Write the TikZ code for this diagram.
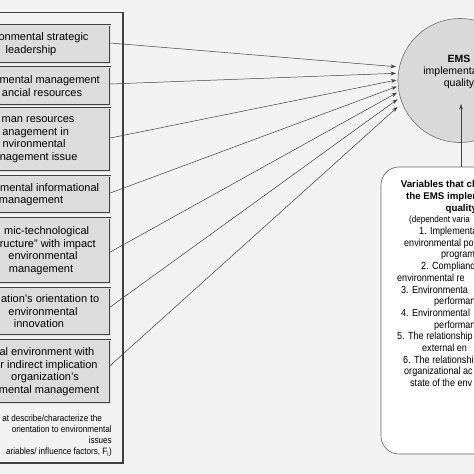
\documentclass[tikz,border=0pt]{standalone}
\usepackage{fontspec}
\setmainfont{Liberation Sans}
\newfontfamily\narrowfont[FakeStretch=0.88]{Liberation Sans}
\usetikzlibrary{arrows.meta,shadows}
\definecolor{bg}{HTML}{F2F2F2}
\definecolor{boxfill}{HTML}{DCDCDC}
\definecolor{circfill}{HTML}{D9D9D9}
\begin{document}
\begin{tikzpicture}[x=1pt,y=-1pt,
  leftbox/.style={draw=black!75, line width=0.45pt, double=gray!25, double distance=0.9pt,
    fill=boxfill, minimum width=158pt, inner sep=0pt, align=center,
    font=\fontsize{11}{12.5}\selectfont,
    drop shadow={shadow xshift=1.3pt, shadow yshift=-1.3pt, opacity=0.55, fill=black!70}},
  frame/.style={draw=black!75, line width=1.1pt},
  conn/.style={draw=black!75, line width=0.5pt, -{Stealth[length=5.5pt,width=3.8pt]}},
  emscirc/.style={circle, draw=black!55, line width=0.6pt, fill=circfill, minimum size=124pt, inner sep=0pt},
  rbox/.style={draw=black!60, line width=0.6pt, fill=white, rounded corners=18pt,
    minimum width=166pt, minimum height=287pt, inner sep=0pt},
  plain/.style={inner sep=0pt}
]
\useasboundingbox (0,0) rectangle (474,474);
\clip (0,0) rectangle (474,474);
\fill[bg] (0,0) rectangle (474,474);

% left frame
\draw[frame] (-70,12.5) rectangle (123,463);

% left boxes
\node[leftbox, minimum height=38pt] (b1) at (31,44)
  {\hphantom{Envir}onmental strategic\\leadership};
\node[leftbox, minimum height=38pt] (b2) at (31,86)
  {\hphantom{Environ}mental management\\\hphantom{\& fin}ancial resources};
\node[leftbox, minimum height=63pt] (b3) at (31,139.5)
  {\hphantom{Hu}man resources\\\hphantom{m}anagement in\\\hphantom{e}nvironmental\\\hphantom{ma}nagement issue};
\node[leftbox, minimum height=37pt] (b4) at (31,194.5)
  {\hphantom{Environ}mental informational\\management};
\node[leftbox, minimum height=65pt] (b5) at (31,250.5)
  {\hphantom{Econo}mic-technological\\\hphantom{“infrast}ructure” with impact\\\hspace*{24pt}environmental\\\hspace*{20pt}management};
\node[leftbox, minimum height=47pt] (b6) at (31,311.5)
  {\hphantom{Organiz}ation’s orientation to\\\hspace*{24pt}environmental\\\hspace*{16pt}innovation};
\node[leftbox, minimum height=63pt] (b7) at (31,371.5)
  {\hphantom{Extern}al environment with\\\hphantom{direct o}r indirect implication\\\hspace*{28pt}organization’s\\\hphantom{environ}mental management};

% caption of the left frame
\node[plain, anchor=north east, align=right, font=\narrowfont\fontsize{9.2}{11.2}\selectfont] (cap) at (112,414.5)
  {at describe/characterize the\hspace*{10pt}\\orientation to environmental\hspace*{5pt}\\issues\hspace*{54pt}\\ariables/ influence factors, F\textsubscript{i})};

% circle
\node[emscirc] (ems) at (460,80.5) {};
\node[plain, align=center, font=\fontsize{10.5}{11.8}\selectfont] (emstext) at (459,72)
  {\textbf{EMS}\\implementation\\quality};

% right box
\node[rbox] (rb) at (464,310.5) {};
\node[plain, anchor=north west, align=left, font=\narrowfont\fontsize{10.3}{11.7}\selectfont] (rtext) at (397,180.5)
  {\hspace*{3.7pt}{\fontspec{Liberation Sans}\fontsize{9.7}{11.7}\selectfont\bfseries Variables that ch}\\
   \hspace*{9pt}{\fontspec{Liberation Sans}\fontsize{9.7}{11.7}\selectfont\bfseries the EMS implem}\\
   \hspace*{48.5pt}{\fontspec{Liberation Sans}\fontsize{9.7}{11.7}\selectfont\bfseries quality}\\
   \hspace*{12pt}{\fontsize{9.2}{11.7}\selectfont(dependent varia}\\
   \hspace*{22pt}1. Implementa\\
   \hspace*{7pt}environmental po\\
   \hspace*{44pt}program\\
   \hspace*{24pt}2. Complianc\\
   \hspace*{0pt}environmental re\\
   \hspace*{4pt}3. Environmenta\\
   \hspace*{37pt}performan\\
   \hspace*{4pt}4. Environmental\\
   \hspace*{37pt}performan\\
   \hspace*{0pt}5. The relationship\\
   \hspace*{25pt}external en\\
   \hspace*{6pt}6. The relationshi\\
   \hspace*{7pt}organizational ac\\
   \hspace*{13pt}state of the env};

% arrow tips
\coordinate (t1) at (396,66.7);
\coordinate (t2) at (396,73.3);
\coordinate (t3) at (396.5,80);
\coordinate (t4) at (397,86.5);
\coordinate (t5) at (397,92.7);
\coordinate (t6) at (397.5,99.3);
\coordinate (t7) at (397.5,107);
\coordinate (vtip) at (461,104);

\draw[conn] ([yshift=1pt]b1.east) -- (t1);
\draw[conn] ([yshift=2pt]b2.east) -- (t2);
\draw[conn] ([yshift=1.5pt]b3.east) -- (t3);
\draw[conn] ([yshift=1.5pt]b4.east) -- (t4);
\draw[conn] ([yshift=-1.5pt]b5.east) -- (t5);
\draw[conn] ([yshift=4.5pt]b6.east) -- (t6);
\draw[conn] ([yshift=6pt]b7.east) -- (t7);
\draw[conn] ([xshift=-3pt]rb.north) -- (vtip);
\end{tikzpicture}
\end{document}
